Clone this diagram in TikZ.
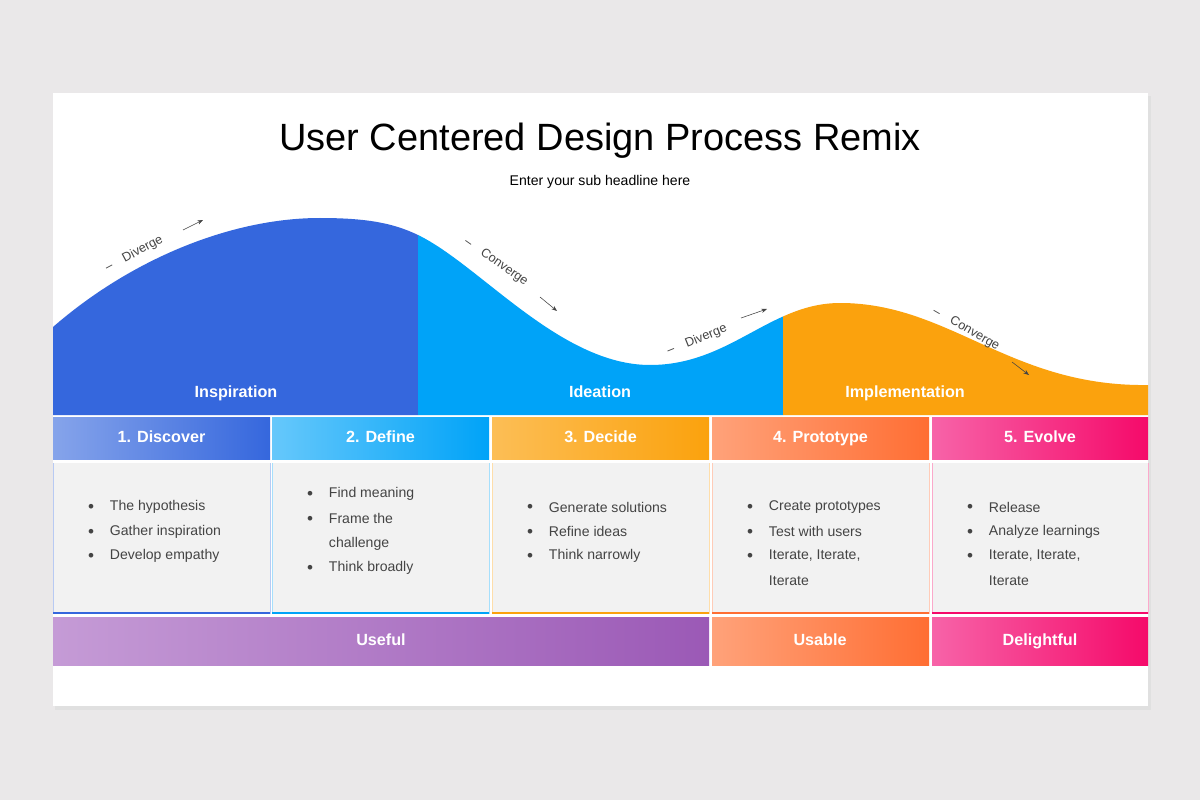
\documentclass[tikz,border=0pt]{standalone}
\usepackage{fontspec}
\setmainfont{Liberation Sans}
\usetikzlibrary{positioning,calc,arrows.meta}
\definecolor{bgGrey}{HTML}{EAE8E9}
\definecolor{txtGrey}{HTML}{444444}
\definecolor{waveBlue}{HTML}{3567DD}
\definecolor{waveSky}{HTML}{00A3F8}
\definecolor{waveOrange}{HTML}{FBA20D}
\definecolor{cellGrey}{HTML}{F2F2F2}
\definecolor{protoR}{HTML}{FF6E33}\definecolor{protoL}{HTML}{FFA27A}
\definecolor{evolR}{HTML}{F50A6A}\definecolor{evolL}{HTML}{F763A8}
\definecolor{useL}{HTML}{C59BD6}\definecolor{useR}{HTML}{9B59B6}
\tikzset{
  Head/.style = {text=white, font=\bfseries\fontsize{11.5}{13}\selectfont,
    text height=8.5pt, text depth=2.5pt},
  Item/.style = {text=txtGrey, font=\fontsize{10}{12}\selectfont, anchor=west},
  Dot/.style = {text=txtGrey, font=\fontsize{8}{10}\selectfont},
  Flow/.style = {text=txtGrey, font=\fontsize{9}{11}\selectfont},
  Tip/.style = {draw=txtGrey, thin, -{Stealth[length=4pt]}}
}
\newcommand{\cellbox}[6]{% x0, x1, name, left colour, right colour, text
  \shade[left color=#4, right color=#5] (#1,417) rectangle (#2,459);
  \node[Head] (#3) at ({(#1+#2)/2},438) {#6};
  \fill[cellGrey] (#1,463) rectangle (#2,613);
  \draw[#5!35, line width=0.4pt] (#1,463) -- (#1,613) -- (#2,613) -- (#2,463);
  \draw[#5, line width=0.8pt] (#1,613) -- (#2,613);
}
\begin{document}
\begin{tikzpicture}[x=0.025cm, y=-0.025cm]
  \fill[bgGrey] (0,0) rectangle (1200,800);
  \fill[black!12] (55,96) rectangle (1151,710);
  \fill[white] (53,93) rectangle (1148,706);

  % titles
  \node (title) at (600,141) {\fontsize{27}{30}\selectfont User Centered Design Process Remix};
  \node (sub) at (600,182) {\fontsize{10}{12}\selectfont Enter your sub headline here};

  % wave
  \def\wave{(53,327) .. controls (130,260) and (230,218) .. (320,218)
    .. controls (370,218) and (395,224) .. (418,235)
    .. controls (480,265) and (560,365) .. (650,365)
    .. controls (730,365) and (770,303) .. (840,303)
    .. controls (950,303) and (1010,387) .. (1148,385) -- (1148,415) -- (53,415) -- cycle}
  \begin{scope}
    \clip (53,150) rectangle (418,415);
    \fill[waveBlue] \wave;
  \end{scope}
  \begin{scope}
    \clip (418,150) rectangle (783,415);
    \fill[waveSky] \wave;
  \end{scope}
  \begin{scope}
    \clip (783,150) rectangle (1148,415);
    \fill[waveOrange] \wave;
  \end{scope}
  \node[Head] (insp) at (236,393) {Inspiration};
  \node[Head] (idea) at (600,393) {Ideation};
  \node[Head] (impl) at (905,393) {Implementation};

  % flow labels
  \node[Flow, rotate=28] (div1) at (134,254) {--\quad Diverge};
  \coordinate (d1a) at (183,230); \coordinate (d1b) at (203,220);
  \draw[Tip] (d1a) -- (d1b);
  \node[Flow, rotate=-35] (con1) at (496,262) {--\quad Converge};
  \coordinate (c1a) at (540,297); \coordinate (c1b) at (557,311);
  \draw[Tip] (c1a) -- (c1b);
  \node[Flow, rotate=22] (div2) at (697,340) {--\quad Diverge};
  \coordinate (d2a) at (741,318); \coordinate (d2b) at (767,309);
  \draw[Tip] (d2a) -- (d2b);
  \node[Flow, rotate=-30] (con2) at (966,329) {--\quad Converge};
  \coordinate (c2a) at (1012,362); \coordinate (c2b) at (1029,375);
  \draw[Tip] (c2a) -- (c2b);

  % step columns
  \cellbox{53}{270}{discover}{waveBlue!60!white}{waveBlue}{1. Discover}
  \cellbox{272}{489}{define}{waveSky!60!white}{waveSky}{2. Define}
  \cellbox{492}{709}{decide}{waveOrange!70!white}{waveOrange}{3. Decide}
  \cellbox{712}{929}{proto}{protoL}{protoR}{4. Prototype}
  \cellbox{932}{1148}{evolve}{evolL}{evolR}{5. Evolve}

  % bullet lists
  \foreach \x/\y/\items in {
      53/507/{The hypothesis,Gather inspiration,Develop empathy},
      272/494/{Find meaning,Frame the,,Think broadly},
      492/507/{Generate  solutions,Refine ideas,Think narrowly},
      712/507/{Create prototypes,Test with users,{Iterate, Iterate,},},
      932/507/{Release,Analyze learnings,{Iterate, Iterate,},}}{
    \foreach \t [count=\i from 0] in \items {
      \ifx\t\empty\else
        \node[Dot] at (\x+38,\y+24.5*\i) {$\bullet$};
        \node[Item] at (\x+52,\y+24.5*\i) {\t};
      \fi
    }
  }
  \node[Item] (cont1) at (324,543.5) {challenge};
  \node[Item] (cont2) at (764,581) {Iterate};
  \node[Item] (cont3) at (984,581) {Iterate};

  % quality row
  \shade[left color=useL, right color=useR] (53,617) rectangle (709,665);
  \shade[left color=protoL, right color=protoR] (712,617) rectangle (929,665);
  \shade[left color=evolL, right color=evolR] (932,617) rectangle (1148,665);
  \node[Head] (useful) at (381,641) {Useful};
  \node[Head] (usable) at (820,641) {Usable};
  \node[Head] (delight) at (1040,641) {Delightful};
\end{tikzpicture}
\end{document}
